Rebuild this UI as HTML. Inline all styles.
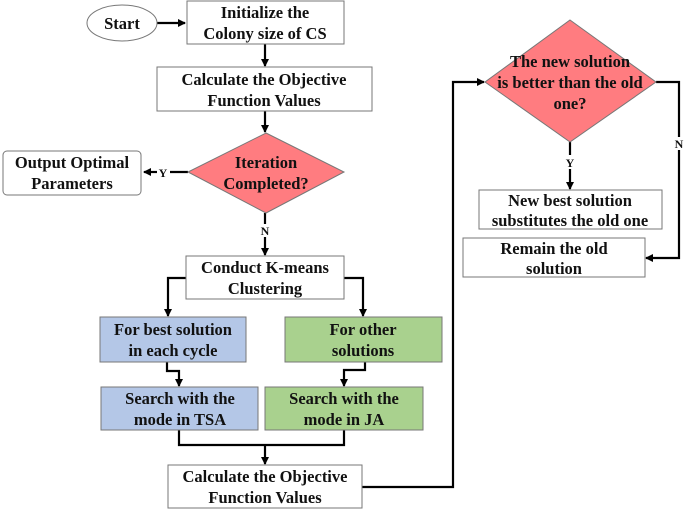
<!DOCTYPE html>
<html><head><meta charset="utf-8"><style>
html,body{margin:0;padding:0;background:#fff;}
svg{display:block;}
text{font-family:"Liberation Serif",serif;font-weight:bold;font-size:16.5px;fill:#111;text-anchor:middle;}
.sm{font-size:12px;}
</style></head><body>
<svg width="685" height="511" viewBox="0 0 685 511" xmlns="http://www.w3.org/2000/svg">
<defs>
<marker id="a" markerWidth="8" markerHeight="8" refX="7" refY="4" orient="auto" markerUnits="userSpaceOnUse">
<path d="M0,0 L8,4 L0,8 Z" fill="#000"/></marker>
</defs>
<g fill="none" stroke="#000" stroke-width="2.2">
<line x1="157" y1="23" x2="185" y2="23" marker-end="url(#a)"/>
<line x1="265" y1="44" x2="265" y2="66" marker-end="url(#a)"/>
<line x1="265" y1="111" x2="265" y2="132" marker-end="url(#a)"/>
<polyline points="188,172 170,172"/>
<line x1="157" y1="172" x2="144" y2="172" marker-end="url(#a)"/>
<polyline points="265,213 265,224"/>
<line x1="265" y1="237" x2="265" y2="255" marker-end="url(#a)"/>
<polyline points="186,278 168,278 168,316" marker-end="url(#a)"/>
<polyline points="344,278 363,278 363,316" marker-end="url(#a)"/>
<polyline points="167,362 167,371 179,371 179,386" marker-end="url(#a)"/>
<polyline points="365,362 365,370 344,370 344,386" marker-end="url(#a)"/>
<polyline points="179,430 179,445 344,445 344,430"/>
<line x1="265" y1="445" x2="265" y2="464" marker-end="url(#a)"/>
<polyline points="362,487 453,487 453,82 484,82" marker-end="url(#a)"/>
<polyline points="656,82 679,82 679,137"/>
<polyline points="679,150 679,258 646,258" marker-end="url(#a)"/>
<polyline points="570,142 570,155"/>
<line x1="570" y1="169" x2="570" y2="189" marker-end="url(#a)"/>
</g>
<g stroke="#777" stroke-width="1">
<ellipse cx="122" cy="23" rx="35" ry="18" fill="#fff"/>
<rect x="187" y="1" width="157" height="43" fill="#fff"/>
<rect x="157" y="67" width="215" height="44" fill="#fff"/>
<polygon points="266,133 344,172 266,213 188,172" fill="#FF7C80"/>
<rect x="3" y="151" width="138" height="44" rx="4" fill="#fff"/>
<rect x="186" y="256" width="158" height="43" fill="#fff"/>
<rect x="100" y="317" width="146" height="45" fill="#B4C7E7"/>
<rect x="285" y="317" width="157" height="45" fill="#A9D18E"/>
<rect x="101" y="387" width="157" height="43" fill="#B4C7E7"/>
<rect x="265" y="387" width="158" height="43" fill="#A9D18E"/>
<rect x="168" y="465" width="194" height="43" fill="#fff"/>
<polygon points="570,20 656,82 570,142 485,82" fill="#FF7C80"/>
<rect x="479" y="190" width="183" height="39" fill="#fff"/>
<rect x="463" y="238" width="182" height="39" fill="#fff"/>
</g>
<text x="122" y="29">Start</text>
<text x="265" y="18">Initialize the</text>
<text x="265" y="39">Colony size of CS</text>
<text x="264" y="85">Calculate the Objective</text>
<text x="264" y="106">Function Values</text>
<text x="266" y="168">Iteration</text>
<text x="266" y="189">Completed?</text>
<text x="72" y="168">Output Optimal</text>
<text x="72" y="189">Parameters</text>
<text class="sm" x="163" y="177">Y</text>
<text class="sm" x="265" y="235">N</text>
<text x="265" y="273">Conduct K-means</text>
<text x="265" y="294">Clustering</text>
<text x="173" y="335">For best solution</text>
<text x="173" y="356">in each cycle</text>
<text x="363" y="335">For other</text>
<text x="363" y="356">solutions</text>
<text x="180" y="404">Search with the</text>
<text x="180" y="425">mode in TSA</text>
<text x="344" y="404">Search with the</text>
<text x="344" y="425">mode in JA</text>
<text x="265" y="482">Calculate the Objective</text>
<text x="265" y="503">Function Values</text>
<text x="570" y="67">The new solution</text>
<text x="570" y="88">is better than the old</text>
<text x="570" y="109">one?</text>
<text class="sm" x="570" y="167">Y</text>
<text class="sm" x="679" y="148">N</text>
<text x="570" y="206">New best solution</text>
<text x="570" y="226">substitutes the old one</text>
<text x="554" y="254">Remain the old</text>
<text x="554" y="274">solution</text>
</svg>
</body></html>
